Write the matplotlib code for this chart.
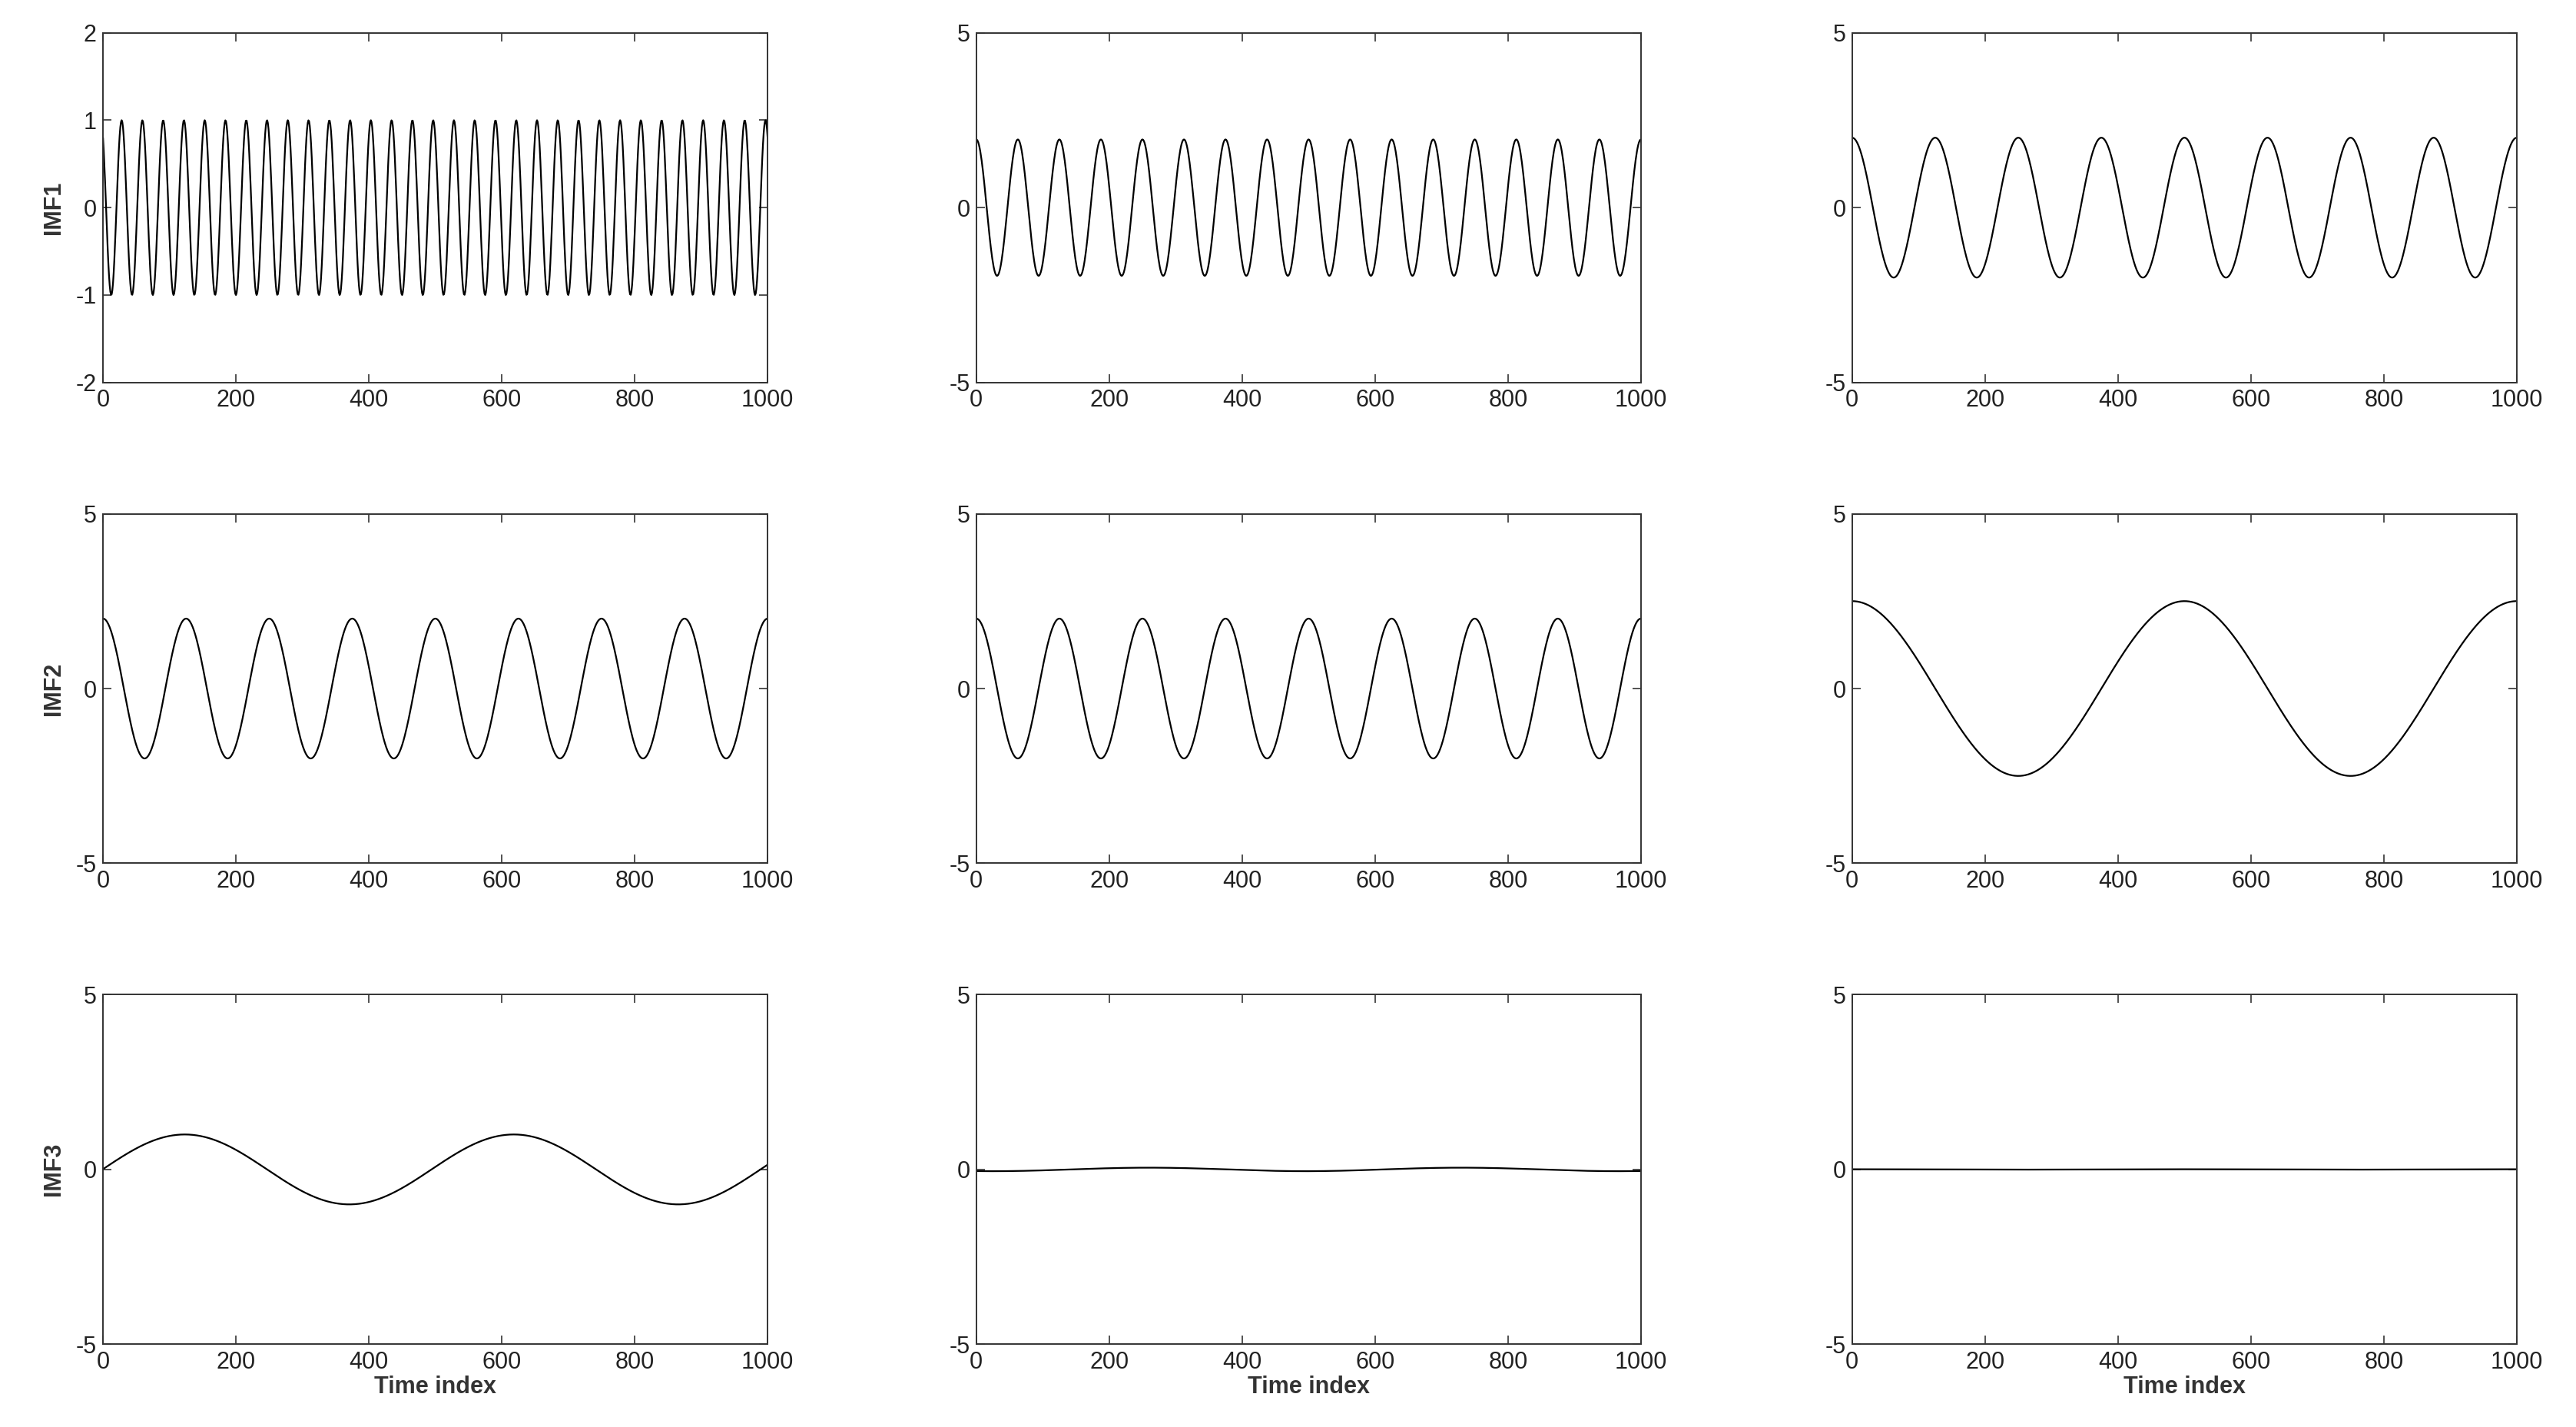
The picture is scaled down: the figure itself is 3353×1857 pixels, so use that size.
import numpy as np
import matplotlib.pyplot as plt

plt.rcParams['font.family'] = ['Liberation Sans', 'DejaVu Sans']
plt.rcParams['axes.unicode_minus'] = False

# time axis of each decomposition
t = np.arange(0, 1001)

# per panel (row-major): amplitude, period (samples), time of first peak
amps = [1.0, 1.95, 2.0,
        2.0, 2.0, 2.5,
        1.0, 0.05, 0.005]
periods = [31.25, 62.5, 125.0,
           125.0, 125.0, 500.0,
           495.0, 470.0, 500.0]
peak_at = [28.0, 62.5, 0.0,
           0.0, 0.0, 0.0,
           123.0, 260.0, 0.0]
row_labels = ["IMF1", "IMF2", "IMF3"]
ylims = [(-2, 2), (-5, 5), (-5, 5), (-5, 5), (-5, 5), (-5, 5), (-5, 5), (-5, 5), (-5, 5)]

fig = plt.figure(figsize=(33.53, 18.57), dpi=100)
lefts = [0.040, 0.379, 0.719]
bottoms = [0.732, 0.395, 0.058]
w, h = 0.258, 0.245

for i in range(9):
    r, c = divmod(i, 3)
    ax = fig.add_axes([lefts[c], bottoms[r], w, h])
    y = amps[i] * np.cos(2 * np.pi * (t - peak_at[i]) / periods[i])
    ax.plot(t, y, color="black", lw=1.6)
    ax.set_xlim(0, 1000)
    lo, hi = ylims[i]
    ax.set_ylim(lo, hi)
    ax.set_xticks(range(0, 1001, 200))
    if hi == 2:
        ax.set_yticks([-2, -1, 0, 1, 2])
    else:
        ax.set_yticks([-5, 0, 5])
    ax.tick_params(direction="in", top=True, right=True, labelsize=22, length=8, width=1.2,
                   pad=6, colors="#333333", labelcolor="#222222")
    for s in ax.spines.values():
        s.set_linewidth(1.4)
        s.set_color("#333333")
    if c == 0:
        ax.set_ylabel(row_labels[r], fontsize=22, labelpad=10, fontweight="bold", color="#333333")
    if r == 2:
        ax.set_xlabel("Time index", fontsize=22, labelpad=2, fontweight="bold", color="#333333")

fig.savefig("out.png", dpi=100)
